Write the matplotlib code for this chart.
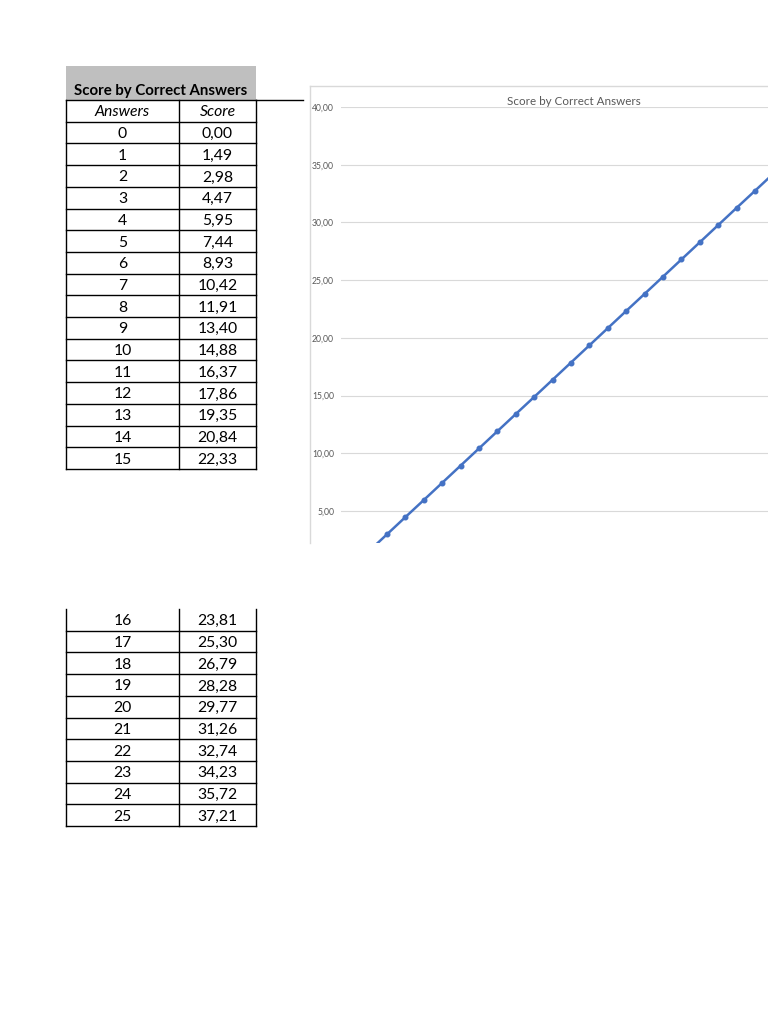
import matplotlib
matplotlib.use("Agg")
from matplotlib import pyplot as plt
from matplotlib.patches import Rectangle

# 表格数据
answers = [0, 1, 2, 3, 4, 5, 6, 7, 8, 9, 10, 11, 12, 13, 14, 15, 16, 17, 18, 19,
           20, 21, 22, 23, 24, 25]
scores = [0.00, 1.49, 2.98, 4.47, 5.95, 7.44, 8.93, 10.42, 11.91, 13.40, 14.88,
          16.37, 17.86, 19.35, 20.84, 22.33, 23.81, 25.30, 26.79, 28.28, 29.77,
          31.26, 32.74, 34.23, 35.72, 37.21]
title = "Score by Correct Answers"
col_headers = ["Answers", "Score"]
y_ticks = [5, 10, 15, 20, 25, 30, 35, 40]

W, H = 768, 1024
FONT = "Lato"
BLUE = "#4472C4"
GRID = "#D9D9D9"
LABEL = "#595959"
CELL_FS = 11.3


def fmt(v):
    return f"{v:.2f}".replace(".", ",")


def fx(x):
    return x / W


def fy(y):
    return 1 - y / H


fig = plt.figure(figsize=(W / 100, H / 100), dpi=100)
fig.patch.set_facecolor("white")

# 背景层，用像素坐标画表格
bg = fig.add_axes([0, 0, 1, 1])
bg.set_xlim(0, W)
bg.set_ylim(H, 0)
bg.axis("off")

x0, xm, x1 = 66, 179, 256
row_h = 21.7

# 表头灰底
bg.add_patch(Rectangle((x0, 66), x1 - x0, 34, facecolor="#BFBFBF", edgecolor="none"))
bg.text((x0 + x1) / 2, 90.5, title, ha="center", va="center", fontsize=10.8,
        fontweight="bold", family=FONT, color="black")
# 表头右侧的线
bg.plot([x1, 303], [100, 100], color="black", lw=1)

# 第一段表格：标题行 + 0..15
top1 = 100
rows1 = [(col_headers[0], col_headers[1], True)] + \
        [(str(a), fmt(s), False) for a, s in zip(answers[:16], scores[:16])]
bottom1 = top1 + row_h * len(rows1)
for i, (a, s, ital) in enumerate(rows1):
    yc = top1 + row_h * (i + 0.5)
    bg.text((x0 + xm) / 2, yc + 1.5, a, ha="center", va="center", fontsize=CELL_FS,
            family=FONT, style="italic" if ital else "normal")
    bg.text((xm + x1) / 2, yc + 1.5, s, ha="center", va="center", fontsize=CELL_FS,
            family=FONT, style="italic" if ital else "normal")
for i in range(len(rows1) + 1):
    yy = top1 + row_h * i
    bg.plot([x0, x1], [yy, yy], color="black", lw=1)
for xx in (x0, xm, x1):
    bg.plot([xx, xx], [top1, bottom1], color="black", lw=1)

# 第二段表格：16..25（顶部无横线）
top2 = 609
rows2 = [(str(a), fmt(s)) for a, s in zip(answers[16:], scores[16:])]
bottom2 = top2 + row_h * len(rows2)
for i, (a, s) in enumerate(rows2):
    yc = top2 + row_h * (i + 0.5)
    bg.text((x0 + xm) / 2, yc + 1.5, a, ha="center", va="center", fontsize=CELL_FS, family=FONT)
    bg.text((xm + x1) / 2, yc + 1.5, s, ha="center", va="center", fontsize=CELL_FS, family=FONT)
for i in range(1, len(rows2) + 1):
    yy = top2 + row_h * i
    bg.plot([x0, x1], [yy, yy], color="black", lw=1)
for xx in (x0, xm, x1):
    bg.plot([xx, xx], [top2, bottom2], color="black", lw=1)

# 图表区边框（右侧和底部被截掉）
bg.plot([310, 310], [86, 543], color=GRID, lw=1)
bg.plot([310, W], [86, 86], color=GRID, lw=1)
bg.text(574, 101.5, title, ha="center", va="center", fontsize=8.4, family=FONT, color=LABEL)

# 折线图，绘图区延伸到画布外
pl, pr, pt, pb = 341, 819.4, 107, 543
y0_px = 568.7
ppu = (y0_px - pt) / 40
ax = fig.add_axes([fx(pl), fy(pb), (pr - pl) / W, (pb - pt) / H])
ax.set_facecolor("none")
ax.plot(answers, scores, color=BLUE, lw=1.8, marker="o", markersize=3.3, zorder=3)
ax.set_xlim(-0.5, 25.5)
ax.set_ylim((y0_px - pb) / ppu, 40)
ax.set_yticks(y_ticks)
ax.set_yticklabels([fmt(v) for v in y_ticks], fontsize=6.2, color=LABEL, family=FONT)
ax.set_xticks([])
ax.tick_params(axis="y", length=0, pad=5)
ax.grid(axis="y", color=GRID, lw=0.8)
for sp in ax.spines.values():
    sp.set_visible(False)

fig.savefig("out.png", dpi=100)
